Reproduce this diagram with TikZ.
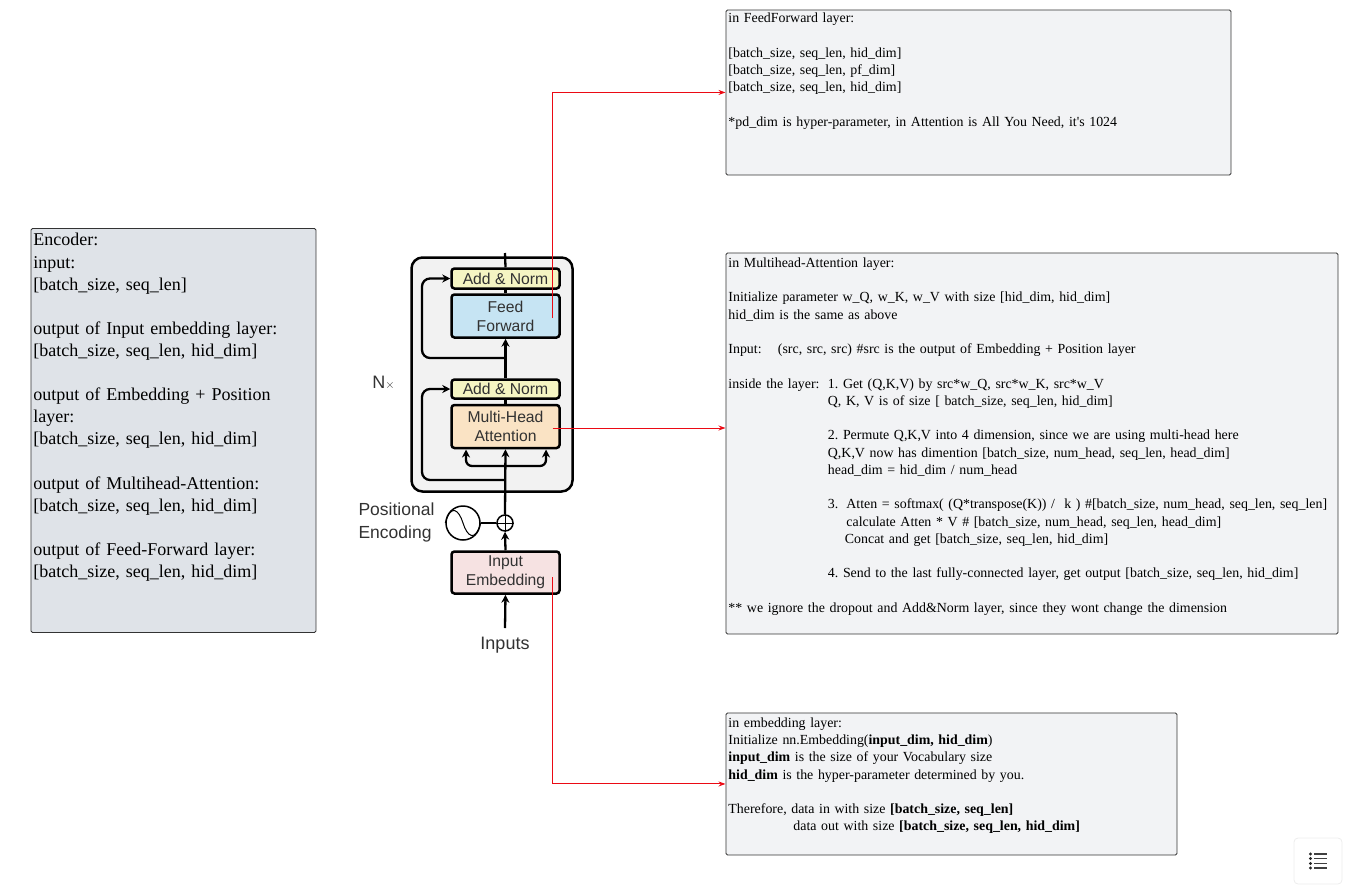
\documentclass[tikz,border=0pt]{standalone}
\usepackage{fontspec}
\setmainfont[Ligatures=TeXOff]{Liberation Serif}
\newfontfamily\labelfont{Liberation Sans}
\usetikzlibrary{arrows.meta}
\definecolor{panelgrey}{RGB}{242,243,245}
\definecolor{panelblue}{RGB}{223,227,232}
\definecolor{normyellow}{RGB}{245,245,195}
\definecolor{feedblue}{RGB}{198,228,243}
\definecolor{attnorange}{RGB}{250,227,196}
\definecolor{embedpink}{RGB}{246,226,226}
\definecolor{blockgrey}{RGB}{242,242,242}
\definecolor{labelgrey}{RGB}{50,50,50}
\definecolor{linkred}{RGB}{235,10,20}
\tikzset{
    panel/.style={draw=black!80, line width=0.9pt, rounded corners=1.5pt, anchor=north west, align=left,
        inner xsep=2.5pt, inner ysep=0pt, text height=14.5pt},
    smalltext/.style={font=\fontsize{13.9}{17.25}\selectfont\frenchspacing},
    bigtext/.style={font=\fontsize{18}{22.1}\selectfont\frenchspacing},
    layerbox/.style={draw=black, line width=2.5pt, rounded corners=3pt, minimum width=108pt, align=center,
        text=labelgrey, font=\labelfont\fontsize{15.7}{19}\selectfont},
    plainlabel/.style={text=labelgrey, font=\labelfont\fontsize{17.5}{23}\selectfont, align=left},
    link/.style={line width=2.3pt},
    arrowlink/.style={line width=2.3pt, -{Stealth[length=8pt,width=8pt]}},
    redlink/.style={color=linkred, line width=1pt, -{Stealth[length=7pt,width=5pt]}}
}
\begin{document}
\begin{tikzpicture}[x=1pt,y=-1pt]
    \useasboundingbox (0,0) rectangle (1358,884);

    % Encoder summary
    \node[panel, bigtext, fill=panelblue, text width=280pt, text height=17.5pt, text depth=386.5pt] (encbox) at (30.5,228) {
        Encoder:\\
        input:\\
        {[}batch\_size, seq\_len]\\[22.1pt]
        output of Input embedding layer:\\
        {[}batch\_size, seq\_len, hid\_dim]\\[22.1pt]
        output of Embedding + Position\\
        layer:\\
        {[}batch\_size, seq\_len, hid\_dim]\\[22.1pt]
        output of Multihead-Attention:\\
        {[}batch\_size, seq\_len, hid\_dim]\\[22.1pt]
        output of Feed-Forward layer:\\
        {[}batch\_size, seq\_len, hid\_dim]
    };

    % Encoder block
    \node[draw=black, line width=2.5pt, fill=blockgrey, rounded corners=11pt, minimum width=161pt, minimum height=234pt] (block) at (492,374.5) {};
    \coordinate (topout) at (505,253);
    \coordinate (resa) at (505,358);
    \coordinate (resb) at (505,480);
    \coordinate (split) at (505,466);
    \node[layerbox, fill=normyellow, minimum height=20pt] (addtop) at (505.5,278.5) {Add \& Norm};
    \node[layerbox, fill=feedblue, minimum height=43pt] (ffn) at (505.5,316) {Feed\\Forward};
    \node[layerbox, fill=normyellow, minimum height=19pt] (addlow) at (505.5,389) {Add \& Norm};
    \node[layerbox, fill=attnorange, minimum height=43pt] (attn) at (505.5,426.5) {Multi-Head\\Attention};
    \node[layerbox, fill=embedpink, minimum height=42pt] (embed) at (505.5,572.5) {Input\\Embedding};
    \node[draw=black, line width=1.5pt, fill=white, circle, minimum size=16pt, inner sep=0pt] (plus) at (505,523) {};
    \node[draw=black, line width=1.5pt, fill=white, circle, minimum size=34pt, inner sep=0pt] (sine) at (463,523) {};
    \node[plainlabel, anchor=west] (posenc) at (355,522) {Positional\\Encoding};
    \node[plainlabel, font=\labelfont\fontsize{18}{20}\selectfont] (nx) at (383.5,383) {N\raisebox{0.5pt}{\fontsize{13}{13}\selectfont$\times$}};
    \node[plainlabel, font=\labelfont\fontsize{18}{20}\selectfont] (inputs) at (505,645) {Inputs};
    \coordinate (infrom) at (505,628);

    % Encoder connectors
    \draw[link] (addtop.north) -- (topout);
    \draw[link] (ffn.north) -- (addtop.south);
    \draw[link] (attn.north) -- (addlow.south);
    \draw[arrowlink] (addlow.north) -- (ffn.south);
    \draw[arrowlink, rounded corners=8pt] (resa) -- (422,358) -- (422,278.5) -- (addtop.west);
    \draw[arrowlink, rounded corners=8pt] (resb) -- (422,480) -- (422,389) -- (addlow.west);
    \draw[arrowlink] (plus.north) -- (attn.south);
    \draw[arrowlink, rounded corners=6pt] (split) -- (466,466) -- (466,449.5);
    \draw[arrowlink, rounded corners=6pt] (split) -- (546,466) -- (546,449.5);
    \draw[arrowlink] (embed.north) -- (plus.south);
    \draw[arrowlink] (infrom) -- (embed.south);
    \draw[line width=1.5pt] (sine.east) -- (plus.west);
    \draw[line width=1pt] (plus.north) -- (plus.south) (plus.west) -- (plus.east);
    \draw[line width=1pt] (sine.west) .. controls (451,503) and (459,510) .. (sine.center) .. controls (467,536) and (475,543) .. (sine.east);

    % For the FeedForward layer
    \node[panel, smalltext, fill=panelgrey, text width=500pt, text height=13pt, text depth=152pt] (ffbox) at (725.5,9.5) {
        in FeedForward layer:\\[17.25pt]
        {[}batch\_size, seq\_len, hid\_dim]\\
        {[}batch\_size, seq\_len, pf\_dim]\\
        {[}batch\_size, seq\_len, hid\_dim]\\[17.25pt]
        *pd\_dim is hyper-parameter, in Attention is All You Need, it's 1024
    };

    % For the Multihead-Attention layer
    \node[panel, smalltext, fill=panelgrey, text width=607pt, text depth=366.5pt] (attnbox) at (725.5,252.5) {
        in Multihead-Attention layer:\\[17.25pt]
        Initialize parameter w\_Q, w\_K, w\_V with size [hid\_dim, hid\_dim]\\
        hid\_dim is the same as above\\[17.25pt]
        \makebox[49.5pt][l]{Input:}(src, src, src) \#src is the output of Embedding + Position layer\\[17.25pt]
        \makebox[99.5pt][l]{inside the layer:}1. Get (Q,K,V) by src*w\_Q, src*w\_K, src*w\_V\\
        \hspace*{99.5pt}Q, K, V is of size [ batch\_size, seq\_len, hid\_dim]\\[17.25pt]
        \hspace*{99.5pt}2. Permute Q,K,V into 4 dimension, since we are using multi-head here\\
        \hspace*{99.5pt}Q,K,V now has dimention [batch\_size, num\_head, seq\_len, head\_dim]\\
        \hspace*{99.5pt}head\_dim = hid\_dim / num\_head\\[17.25pt]
        \hspace*{99.5pt}\makebox[18.5pt][l]{3.}Atten = softmax( (Q*transpose(K)) /\ \ k ) \#[batch\_size, num\_head, seq\_len, seq\_len]\\
        \hspace*{118pt}calculate Atten * V \# [batch\_size, num\_head, seq\_len, head\_dim]\\
        \hspace*{116.5pt}Concat and get [batch\_size, seq\_len, hid\_dim]\\[17.25pt]
        \hspace*{99.5pt}4. Send to the last fully-connected layer, get output [batch\_size, seq\_len, hid\_dim]\\[17.25pt]
        ** we ignore the dropout and Add\&Norm layer, since they wont change the dimension
    };

    % For the embedding layer
    \node[panel, smalltext, fill=panelgrey, text width=446pt, text depth=127.5pt] (embbox) at (725.5,712.5) {
        in embedding layer:\\
        Initialize nn.Embedding(\textbf{input\_dim, hid\_dim})\\
        \textbf{input\_dim} is the size of your Vocabulary size\\
        \textbf{hid\_dim} is the hyper-parameter determined by you.\\[17.25pt]
        Therefore, data in with size \textbf{[batch\_size, seq\_len]}\\
        \hspace*{65pt}data out with size \textbf{[batch\_size, seq\_len, hid\_dim]}
    };

    % Red connectors
    \coordinate (ffout) at (552.5,318);
    \coordinate (attnout) at (552.5,428);
    \coordinate (embout) at (552.5,577);
    \draw[redlink] (ffout) |- (ffbox.west);
    \draw[redlink] (attnout) -- (attnout -| attnbox.west);
    \draw[redlink] (embout) |- (embbox.west);

    % List button
    \draw[draw=black!7, fill=white, line width=0.8pt, rounded corners=4pt] (1294,838) rectangle (1342,884);
    \foreach \y in {854,858.5,863.5,868} {
        \fill[black!85] (1310.5,\y) circle (1.7pt);
        \draw[black!75, line width=1.2pt] (1314,\y) -- (1327,\y);
    }
\end{tikzpicture}
\end{document}
